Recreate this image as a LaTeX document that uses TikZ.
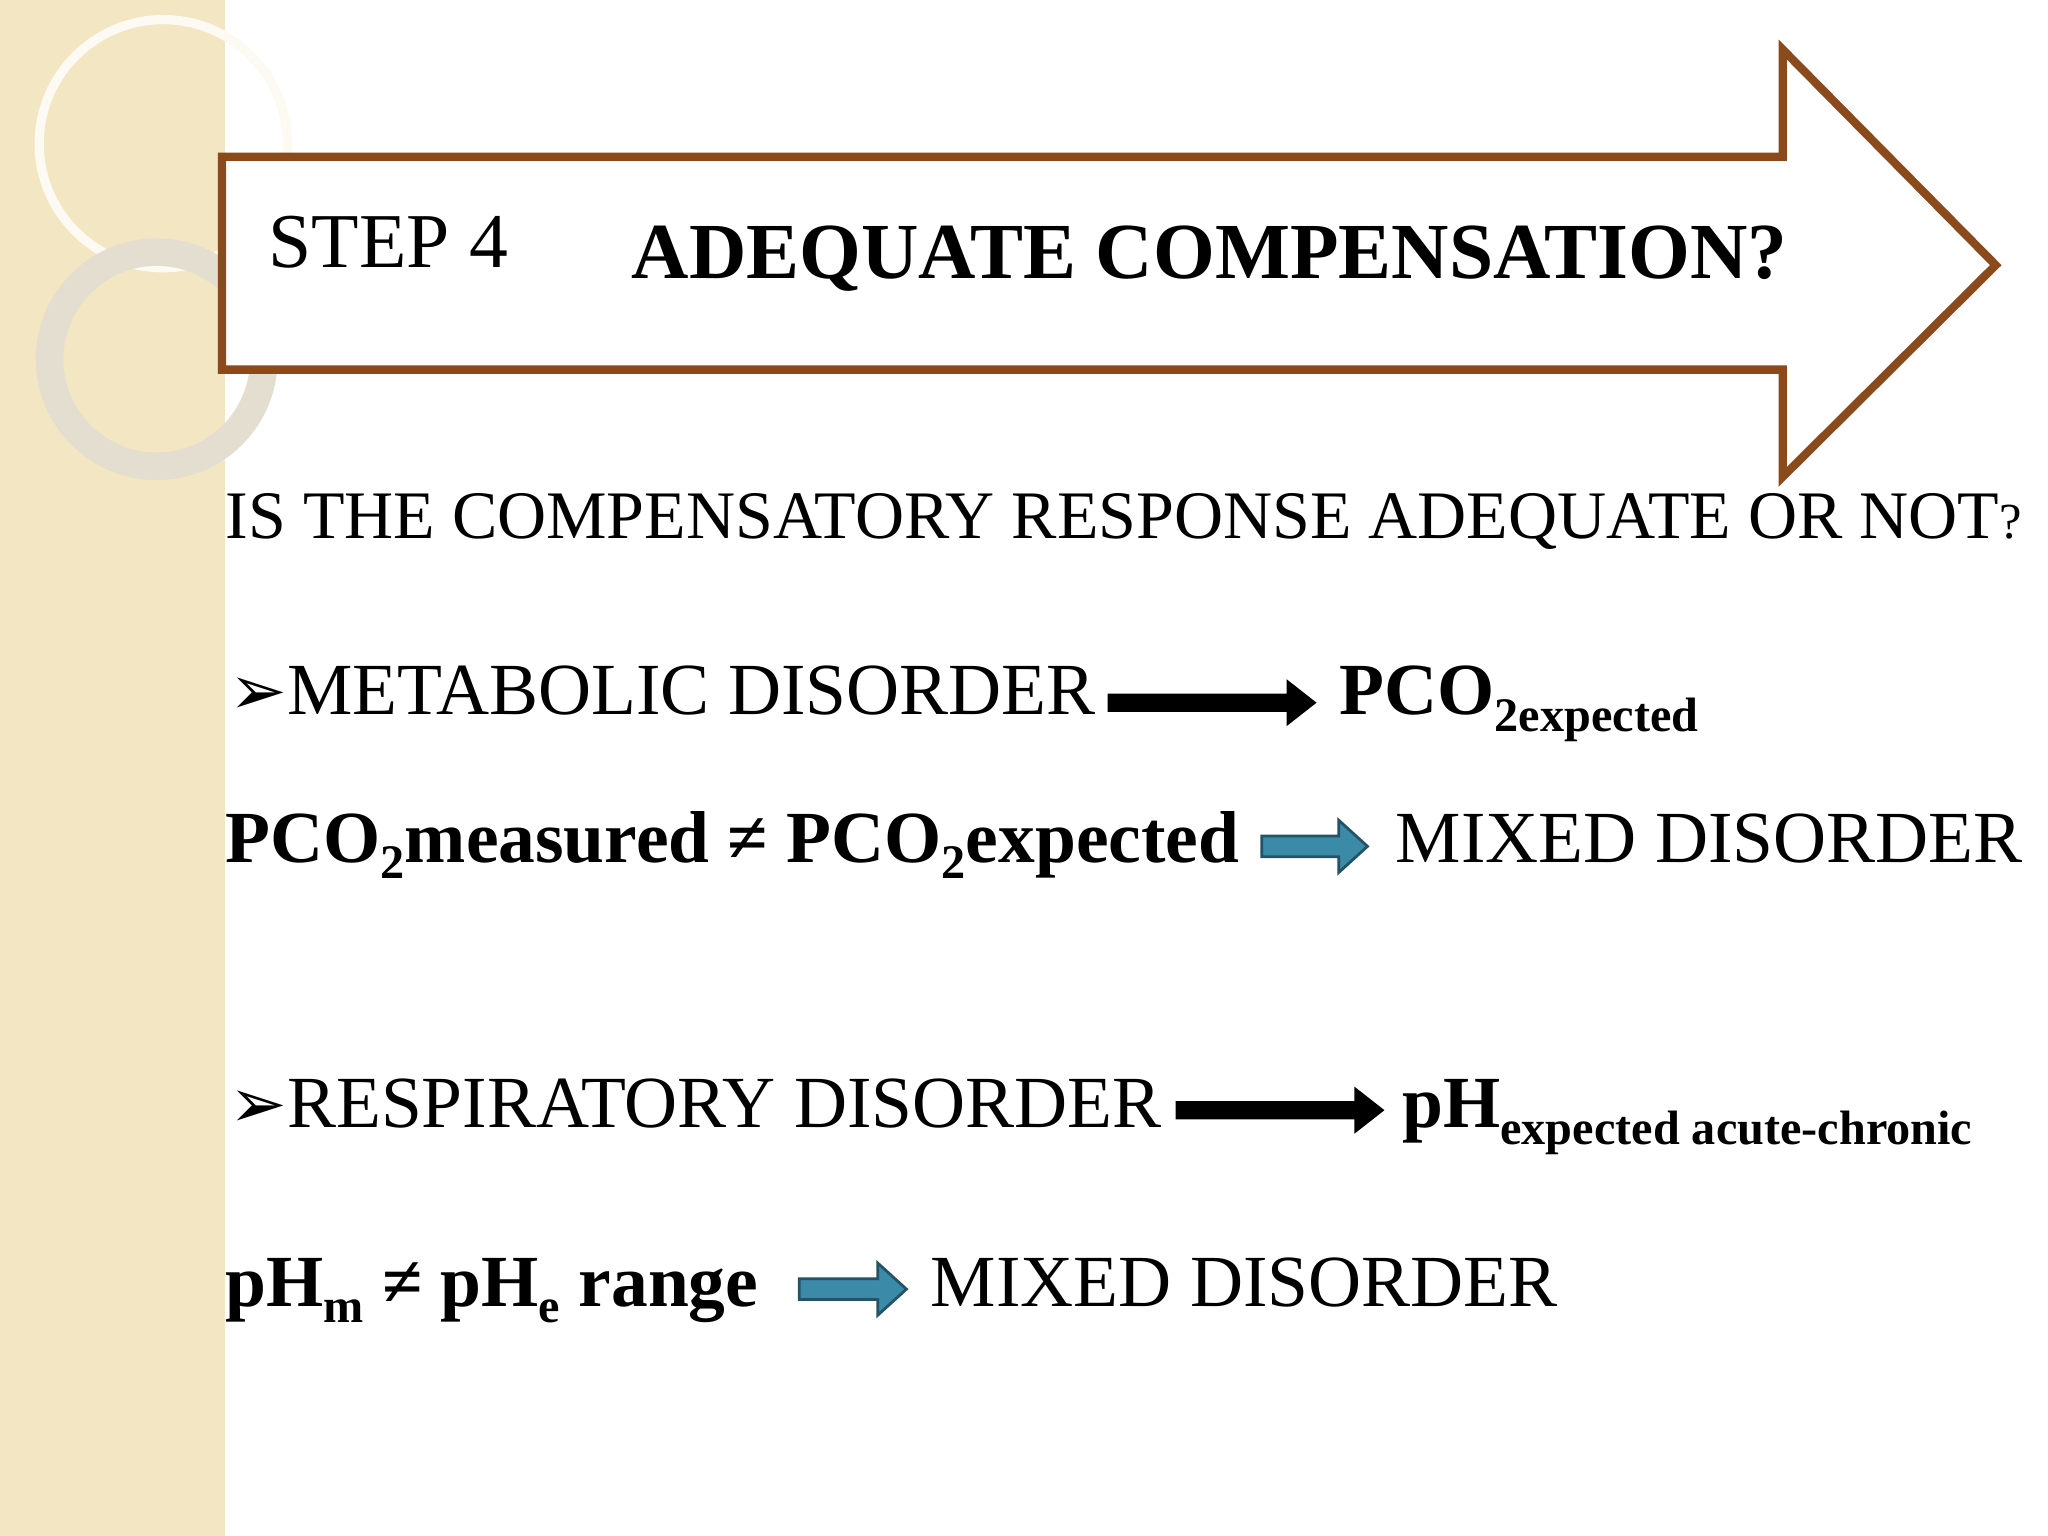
\documentclass[tikz,border=0pt]{standalone}
\usepackage{fontspec}
\setmainfont{Liberation Serif}
\newfontfamily\symf{DejaVu Sans}
\definecolor{strip}{HTML}{F3E6C2}
\definecolor{arrbrown}{HTML}{8B4A1C}
\definecolor{tealb}{HTML}{3A8AA8}
\newcommand{\lowsub}[1]{\raisebox{-0.5ex}{\fontsize{10.5}{12}\selectfont\bfseries #1}}
\begin{document}
\begin{tikzpicture}[x=0.01cm,y=-0.01cm,
  txt/.style={anchor=base west,inner sep=0pt,font=\fontsize{16}{19}\selectfont},
  btxt/.style={txt,font=\fontsize{16}{19}\selectfont\bfseries},
  blk/.style={fill=black},
  blu/.style={fill=tealb,draw=tealb!60!black,line width=0.6pt}]
\useasboundingbox (0,0) rectangle (1568,1176);
\fill[white] (0,0) rectangle (1568,1176);
\fill[strip] (0,0) rectangle (172,1176);
\draw[white!80!strip,line width=2pt] (125,110) circle (95);
\draw[strip!70!gray!60,line width=6pt] (120,275) circle (82);
% big arrow
\draw[draw=arrbrown,fill=white,line width=1.8pt]
  (170,120) -- (1365,120) -- (1365,38) -- (1528,203) -- (1365,365) -- (1365,283) -- (170,283) -- cycle;
\node[txt,font=\fontsize{16.9}{20}\selectfont] (s4) at (205,205) {STEP 4};
\node[btxt,font=\fontsize{17.3}{20}\selectfont\bfseries] (t) at (483,213) {ADEQUATE COMPENSATION?};
\node[txt,font=\fontsize{14.8}{17}\selectfont] (q) at (172,412) {IS THE COMPENSATORY RESPONSE ADEQUATE OR NOT\fontsize{11}{13}\selectfont?};
% metabolic
\node[txt] (m) at (175,547) {{\symf\fontsize{15}{16}\selectfont ➢}METABOLIC DISORDER};
\fill[blk] (848,531) -- (985,531) -- (985,520) -- (1008,538) -- (985,556) -- (985,545) -- (848,545) -- cycle;
\node[btxt] (pe) at (1025,547) {PCO\lowsub{2expected}};
\node[btxt] (pm) at (172,660) {PCO\lowsub{2}measured ≠ PCO\lowsub{2}expected};
\draw[blu] (966,640) -- (1025,640) -- (1025,628) -- (1047,648) -- (1025,668) -- (1025,656) -- (966,656) -- cycle;
\node[txt] (md1) at (1068,660) {MIXED DISORDER};
% respiratory
\node[txt] (r) at (175,863) {{\symf\fontsize{15}{16}\selectfont ➢}RESPIRATORY DISORDER};
\fill[blk] (900,843) -- (1037,843) -- (1037,832) -- (1060,850) -- (1037,868) -- (1037,857) -- (900,857) -- cycle;
\node[btxt] (ph) at (1073,863) {pH\lowsub{expected acute-chronic}};
\node[btxt] (phm) at (172,1000) {pH\lowsub{m} ≠ pH\lowsub{e} range};
\draw[blu] (612,979) -- (672,979) -- (672,967) -- (694,987) -- (672,1007) -- (672,995) -- (612,995) -- cycle;
\node[txt] (md2) at (712,1000) {MIXED DISORDER};
\end{tikzpicture}
\end{document}
